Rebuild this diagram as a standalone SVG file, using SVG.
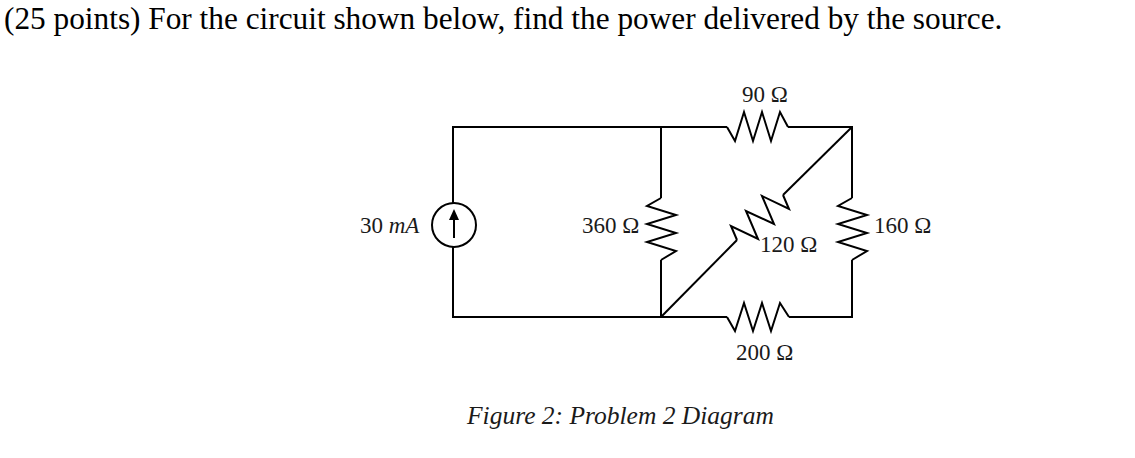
<svg xmlns="http://www.w3.org/2000/svg" width="1135" height="458" viewBox="0 0 1135 458">
<style>
.w{fill:none;stroke:#000;stroke-width:2;stroke-linejoin:miter}
.t{font-family:"Liberation Serif",serif;font-size:23px;fill:#1a1a1a}
</style>
<rect width="1135" height="458" fill="#fff"/>
<text x="4" y="29" font-family="'Liberation Serif',serif" font-size="31.3" fill="#000">(25 points) For the circuit shown below, find the power delivered by the source.</text>
<g id="wires">
<polyline class="w" points="453,203 453,127 727,127"/>
<polyline class="w" points="453,247 453,317 727,317"/>
<polyline class="w" points="788,127 852,127 852,198"/>
<polyline class="w" points="852,260 852,317 789,317"/>
<polyline class="w" points="661,127 661,198"/>
<polyline class="w" points="661,260 661,317"/>
<polyline class="w" points="661,317 737,240"/>
<polyline class="w" points="783,195 852,127"/>
</g>
<g id="src">
<circle class="w" cx="454" cy="225" r="22"/>
<line x1="454" y1="238" x2="454" y2="218" stroke="#000" stroke-width="2"/>
<polygon points="454,209 449,220 459,220" fill="#000"/>
<text class="t" x="360" y="233"><tspan>30 </tspan><tspan font-style="italic">mA</tspan></text>
</g>
<g id="r90">
<polyline class="w" points="727,127 735,141 744,112 753,141 762,112 771,141 780,112 788,127"/>
<text class="t" x="742" y="102">90 Ω</text>
</g>
<g id="r200">
<polyline class="w" points="727,317 735,331 744,303 753,331 762,303 771,331 780,303 789,317"/>
<text class="t" x="736" y="360">200 Ω</text>
</g>
<g id="r360">
<polyline class="w" points="661,198 647,206 676,215 647,224 676,233 647,242 676,251 661,260"/>
<text class="t" x="582" y="233">360 Ω</text>
</g>
<g id="r160">
<polyline class="w" points="852,198 838,206 867,215 838,224 867,233 838,242 867,251 852,260"/>
<text class="t" x="874" y="233">160 Ω</text>
</g>
<g id="r120">
<polyline class="w" points="737,240 731,226 758,239 746,211 774,224 762,196 789,209 783,195"/>
<text class="t" x="760" y="252">120 Ω</text>
</g>
<text x="467" y="424" font-family="'Liberation Serif',serif" font-size="25.5" font-style="italic" fill="#1a1a1a">Figure 2: Problem 2 Diagram</text>
</svg>
